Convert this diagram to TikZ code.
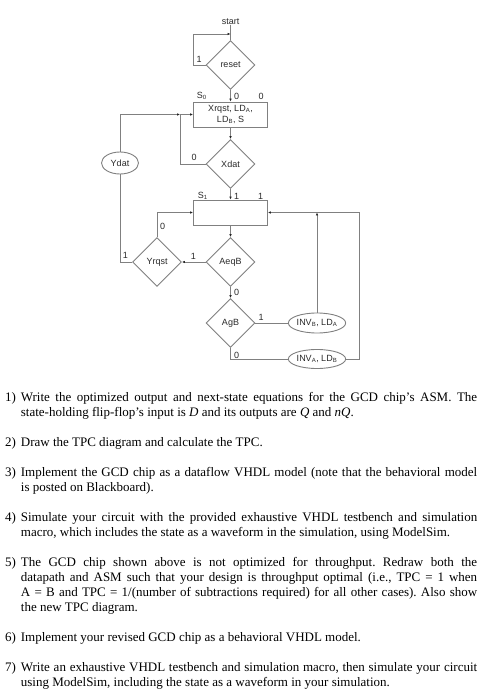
\documentclass[tikz,border=0pt]{standalone}
\usepackage{fontspec}
\setmainfont{Liberation Serif}
\newfontfamily\diagfont{Liberation Sans}
\usetikzlibrary{shapes.geometric,arrows.meta}
\definecolor{ln}{HTML}{808080}
\definecolor{tx}{HTML}{2A2A2A}
\tikzset{
  dia/.style={diamond, draw=ln, line width=0.9pt, minimum width=49pt, minimum height=49pt, inner sep=0pt, text=tx},
  stbox/.style={rectangle, draw=ln, line width=0.9pt, minimum width=74pt, minimum height=25pt, inner sep=0pt, align=center, text=tx},
  oval/.style={ellipse, draw=ln, line width=0.9pt, inner sep=0pt, text=tx},
  lbl/.style={inner sep=0pt, text=tx},
  conn/.style={draw=ln, line width=0.9pt},
  arr/.style={conn, -{Latex[length=3pt,width=2.6pt,color=black!85]}}
}
\begin{document}
\begin{tikzpicture}[x=1pt,y=-1pt,font=\diagfont\fontsize{9}{11.5}\selectfont]
\fill[white] (0,0) rectangle (492,700);
\useasboundingbox (0,0) rectangle (492,700);
% nodes
\node[lbl] (start) at (230.5,22) {start};
\node[dia] (reset) at (230.5,65) {reset};
\node[stbox] (s0) at (230.5,114.5) {Xrqst, LD\textsubscript{A},\\LD\textsubscript{B}, S};
\node[dia] (xdat) at (230.5,164) {Xdat};
\node[oval, minimum width=37pt, minimum height=22pt] (ydat) at (120,163) {Ydat};
\node[stbox] (s1) at (230.5,212.5) {};
\node[dia] (yrqst) at (157,262) {Yrqst};
\node[dia] (aeqb) at (230.5,262) {AeqB};
\node[dia] (agb) at (230.5,323) {AgB};
\node[oval, minimum width=56pt, minimum height=20pt] (invb) at (317,323) {INV\textsubscript{B}, LD\textsubscript{A}};
\node[oval, minimum width=56pt, minimum height=19pt] (inva) at (317,359) {INV\textsubscript{A}, LD\textsubscript{B}};
% coordinates
\coordinate (jst) at (230.5,34);
\coordinate (rl) at (193.3,65);
\coordinate (rt) at (193.3,34);
\coordinate (jx) at (180,114.5);
\coordinate (xl) at (180,164);
\coordinate (ydt) at (120,114.5);
\coordinate (yql) at (120,262);
\coordinate (jr) at (317,212.5);
\coordinate (rb) at (359.5,359);
\coordinate (rtop) at (359.5,212.5);
% connectors
\draw[conn] (start) -- (reset.north);
\draw[arr] (reset.west) -- (rl) -- (rt) -- (jst);
\draw[arr] (reset.south) -- (s0.north);
\draw[arr] (s0.south) -- (xdat.north);
\draw[arr] (xdat.west) -- (xl) -- (jx) -- (s0.west);
\draw[conn] (yrqst.west) -- (yql) -- (ydat.south);
\draw[arr] (ydat.north) -- (ydt) -- (jx);
\draw[arr] (xdat.south) -- (s1.north);
\draw[arr] (yrqst.north) |- (s1.west);
\draw[arr] (s1.south) -- (aeqb.north);
\draw[arr] (aeqb.west) -- (yrqst.east);
\draw[arr] (aeqb.south) -- (agb.north);
\draw[conn] (agb.east) -- (invb.west);
\draw[conn] (agb.south) |- (inva.west);
\draw[arr] (invb.north) -- (jr);
\draw[arr] (inva.east) -- (rb) -- (rtop) -- (s1.east);
% labels
\node[lbl] (l1) at (199,59) {1};
\node[lbl] (ls0) at (201.7,96) {S\textsubscript{0}};
\node[lbl] (l2) at (236.7,96) {0};
\node[lbl] (l3) at (261,96) {0};
\node[lbl] (l4) at (194,157) {0};
\node[lbl] (l5) at (125.5,255) {1};
\node[lbl] (ls1) at (202.7,196) {S\textsubscript{1}};
\node[lbl] (l6) at (236.7,196) {1};
\node[lbl] (l7) at (260.7,196) {1};
\node[lbl] (l8) at (162.7,226) {0};
\node[lbl] (l9) at (193.3,256) {1};
\node[lbl] (l10) at (236.5,292.7) {0};
\node[lbl] (l11) at (261,317) {1};
\node[lbl] (l12) at (236.7,355) {0};
% questions
\node[anchor=north west, inner sep=0pt, text width=472pt, align=justify, text=black,
      font=\rmfamily\fontsize{13}{15}\selectfont] (q) at (5,392) {%
\frenchspacing\setlength{\parskip}{15pt}\setlength{\parindent}{0pt}\hyphenpenalty=10000\tolerance=9999\emergencystretch=20pt
\hangindent=15.7pt\hangafter=1\makebox[15.7pt][l]{1)}Write the optimized output and next-state equations for the GCD chip's ASM. The\linebreak state-holding flip-flop's input is \textit{D} and its outputs are \textit{Q} and \textit{nQ}.\par
\hangindent=15.7pt\hangafter=1\makebox[15.7pt][l]{2)}Draw the TPC diagram and calculate the TPC.\par
\hangindent=15.7pt\hangafter=1\makebox[15.7pt][l]{3)}Implement the GCD chip as a dataflow VHDL model (note that the behavioral model\linebreak is posted on Blackboard).\par
\hangindent=15.7pt\hangafter=1\makebox[15.7pt][l]{4)}Simulate your circuit with the provided exhaustive VHDL testbench and simulation\linebreak macro, which includes the state as a waveform in the simulation, using ModelSim.\par
\hangindent=15.7pt\hangafter=1\makebox[15.7pt][l]{5)}The GCD chip shown above is not optimized for throughput. Redraw both the\linebreak datapath and ASM such that your design is throughput optimal (i.e., TPC = 1 when\linebreak A = B and TPC = 1/(number of subtractions required) for all other cases). Also show\linebreak the new TPC diagram.\par
\hangindent=15.7pt\hangafter=1\makebox[15.7pt][l]{6)}Implement your revised GCD chip as a behavioral VHDL model.\par
\hangindent=15.7pt\hangafter=1\makebox[15.7pt][l]{7)}Write an exhaustive VHDL testbench and simulation macro, then simulate your circuit\linebreak using ModelSim, including the state as a waveform in your simulation.\par};
\end{tikzpicture}
\end{document}
